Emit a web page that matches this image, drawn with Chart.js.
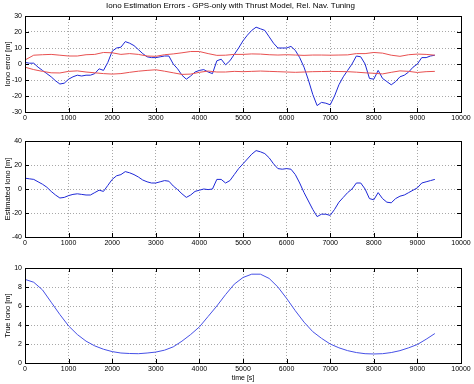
<!DOCTYPE html>
<html>
<head>
<meta charset="utf-8">
<script src="https://cdn.jsdelivr.net/npm/chart.js@4.4.0/dist/chart.umd.min.js"></script>
<style>
  body { margin: 0; background: #fff; }
  #wrap { position: relative; width: 474px; height: 384px; }
  canvas { position: absolute; left: 0; }
</style>
</head>
<body>
<div id="wrap">
  <canvas id="c1" width="474" height="125" style="top:0px"></canvas>
  <canvas id="c2" width="474" height="125" style="top:125px"></canvas>
  <canvas id="c3" width="474" height="134" style="top:250px"></canvas>
</div>
<script>
// tempo das séries ruidosas (passo de 100 s)
const tempoErro = [0,100,200,300,400,500,600,700,800,900,1000,1100,1200,1300,1400,1500,1600,1700,1800,1900,
  2000,2100,2200,2300,2400,2500,2600,2700,2800,2900,3000,3100,3200,3300,3400,3500,3600,3700,3800,3900,
  4000,4100,4200,4300,4400,4500,4600,4700,4800,4900,5000,5100,5200,5300,5400,5500,5600,5700,5800,5900,
  6000,6100,6200,6300,6400,6500,6600,6700,6800,6900,7000,7100,7200,7300,7400,7500,7600,7700,7800,7900,
  8000,8100,8200,8300,8400,8500,8600,8700,8800,8900,9000,9100,9200,9300,9400];

const erroIono = [1,0.5,0.5,-2,-4,-6,-8,-10.5,-12.5,-12,-9.5,-8,-7,-7.5,-7,-7,-6,-3,-4,1,
  8,10,10.5,14,13,11.5,9,6.5,4.5,4,4,4.5,5,5,0,-3,-7,-9.5,-7.5,-5,
  -4,-3.5,-5,-6,2,3,-0.5,2,6,10,14.5,18,21,23,22,21,17,13,10,10,
  10,11,8.5,4,-2,-10,-19,-26,-24,-24.5,-25.5,-20,-13,-8,-4,0,5,4.5,0,-9,
  -9.5,-4,-9,-11,-13,-11,-8,-7,-5,-2,0,4,4,5,5.5];

const ionoEstimado = [9,8.5,8,6,4,1.5,-2,-5,-7.5,-7,-5.5,-4.5,-4,-4.5,-5,-5,-3,-1,-2,3,
  8,11,12,14.5,13.5,12,10,7.5,6,5,5,6,7,6.5,2.5,-0.5,-4,-7,-5,-2,
  -1,0,-0.5,0,8,8,5,7,12,17,21,25,29,32,31,29.5,26,21,17,16.5,
  17,16.5,12,5,-3,-10,-17,-23,-21,-21,-22,-17,-11,-7,-3,0,5,5,0,-8,
  -9,-3,-8,-11,-11.5,-8,-6,-5,-3,-1,1,5,6,7,8];

// limites (curvas vermelhas) e ionosfera verdadeira (passo de 200 s)
const tempoSuave = [0,200,400,600,800,1000,1200,1400,1600,1800,2000,2200,2400,2600,2800,3000,3200,3400,3600,3800,
  4000,4200,4400,4600,4800,5000,5200,5400,5600,5800,6000,6200,6400,6600,6800,7000,7200,7400,7600,7800,
  8000,8200,8400,8600,8800,9000,9200,9400];

const limiteSup = [2.5,5.5,5.8,6,5.5,5,5,5.8,6,7.2,7,6,6.5,6,5,4.8,5.8,6.3,7,7.8,
  7.8,6.5,5.4,5.5,6,6,6.3,6.2,5.8,5.6,5.8,5.6,5.4,5.6,5.6,5.5,5.6,5.7,6.5,6.5,
  7.2,6.8,5.5,4.8,5.8,6.2,6,5.5];

const limiteInf = [-2,-3.5,-4.6,-5.5,-5.6,-4.6,-4.3,-5,-5.5,-6,-6.3,-6,-5.2,-4.5,-4,-3.6,-4.5,-5.5,-6.5,-6.3,
  -5.2,-4.4,-5,-5,-4.6,-4.8,-4.6,-4.4,-4.6,-4.8,-5,-5.2,-5,-4.8,-4.7,-4.6,-4.7,-4.8,-5.1,-5.5,
  -5.8,-6.2,-5.2,-4.3,-4.6,-5.3,-4.8,-4.6];

const ionoVerdadeiro = [8.8,8.5,7.7,6.4,5.1,3.9,3.0,2.3,1.8,1.45,1.2,1.05,1.0,0.98,1.05,1.15,1.35,1.7,2.3,3.0,
  3.8,4.9,6.0,7.2,8.3,9.0,9.35,9.35,8.9,8.0,6.8,5.5,4.3,3.3,2.6,2.0,1.6,1.3,1.1,0.98,
  0.95,0.98,1.1,1.3,1.6,1.95,2.5,3.1];

const FONTE = "'Liberation Sans', Arial, Helvetica, sans-serif";
const AZUL = 'rgb(30,40,215)';
const VERMELHO = 'rgb(232,80,80)';

function pontos(xs, ys) {
  return xs.map((x, i) => ({ x: x, y: ys[i] }));
}

// Desenha a moldura do gráfico e as pequenas marcas internas (estilo MATLAB)
const moldura = {
  id: 'moldura',
  afterDraw(chart) {
    const { ctx, chartArea: a, scales } = chart;
    ctx.save();
    ctx.strokeStyle = '#000';
    ctx.lineWidth = 1;
    ctx.setLineDash([]);
    ctx.beginPath();
    scales.x.ticks.forEach(t => {
      const px = Math.round(scales.x.getPixelForValue(t.value)) + 0.5;
      ctx.moveTo(px, a.bottom); ctx.lineTo(px, a.bottom - 4);
      ctx.moveTo(px, a.top); ctx.lineTo(px, a.top + 4);
    });
    scales.y.ticks.forEach(t => {
      const py = Math.round(scales.y.getPixelForValue(t.value)) + 0.5;
      ctx.moveTo(a.left, py); ctx.lineTo(a.left + 4, py);
      ctx.moveTo(a.right, py); ctx.lineTo(a.right - 4, py);
    });
    ctx.stroke();
    ctx.strokeRect(Math.round(a.left) + 0.5, Math.round(a.top) + 0.5,
      Math.round(a.right - a.left), Math.round(a.bottom - a.top));
    ctx.restore();
  }
};

function opcoes(cfg) {
  return {
    responsive: false,
    animation: false,
    layout: { padding: { top: cfg.topo, right: 13, left: 0, bottom: 0 } },
    plugins: {
      legend: { display: false },
      tooltip: { enabled: false },
      title: cfg.titulo ? {
        display: true,
        text: cfg.titulo,
        color: '#000',
        font: { family: FONTE, size: 8, weight: 'normal' },
        padding: { top: 1, bottom: 5.4 }
      } : { display: false }
    },
    scales: {
      x: {
        type: 'linear',
        min: 0, max: 10000,
        ticks: { stepSize: 1000, color: '#000', padding: 2, maxRotation: 0,
          font: { family: FONTE, size: 7 }, callback: v => String(v) },
        grid: { color: '#a8a8a8', drawTicks: false, borderDash: [1, 2] },
        border: { display: false, dash: [1, 2] },
        title: cfg.tituloX ? { display: true, text: cfg.tituloX, color: '#000',
          font: { family: FONTE, size: 7 }, padding: { top: 0, bottom: 2 } } : { display: false },
        afterFit: s => { s.height = cfg.alturaX; }
      },
      y: {
        min: cfg.ymin, max: cfg.ymax,
        ticks: { stepSize: cfg.passo, color: '#000', padding: 3,
          font: { family: FONTE, size: 7 }, callback: v => String(v) },
        grid: { color: '#a8a8a8', drawTicks: false, borderDash: [1, 2] },
        border: { display: false, dash: [1, 2] },
        title: { display: true, text: cfg.tituloY, color: '#000',
          font: { family: FONTE, size: 7.5 }, padding: { top: 3, bottom: 0 } },
        afterFit: s => { s.width = 25; }
      }
    }
  };
}

function linha(dados, cor, largura) {
  return { data: dados, borderColor: cor, borderWidth: largura, pointRadius: 0, tension: 0, fill: false };
}

new Chart(document.getElementById('c1'), {
  type: 'line',
  data: {
    datasets: [
      linha(pontos(tempoSuave, limiteSup), VERMELHO, 1),
      linha(pontos(tempoSuave, limiteInf), VERMELHO, 1),
      linha(pontos(tempoErro, erroIono), AZUL, 1)
    ]
  },
  options: opcoes({ topo: 0, titulo: 'Iono Estimation Errors - GPS-only with Thrust Model, Rel. Nav. Tuning',
    ymin: -30, ymax: 30, passo: 10, tituloY: 'Iono error [m]', alturaX: 13 }),
  plugins: [moldura]
});

new Chart(document.getElementById('c2'), {
  type: 'line',
  data: { datasets: [linha(pontos(tempoErro, ionoEstimado), AZUL, 1)] },
  options: opcoes({ topo: 16, ymin: -40, ymax: 40, passo: 20, tituloY: 'Estimated Iono [m]', alturaX: 13 }),
  plugins: [moldura]
});

new Chart(document.getElementById('c3'), {
  type: 'line',
  data: { datasets: [linha(pontos(tempoSuave, ionoVerdadeiro), 'rgb(70,80,230)', 1)] },
  options: opcoes({ topo: 18, ymin: 0, ymax: 10, passo: 2, tituloY: 'True Iono [m]', tituloX: 'time [s]', alturaX: 21 }),
  plugins: [moldura]
});
</script>
</body>
</html>
